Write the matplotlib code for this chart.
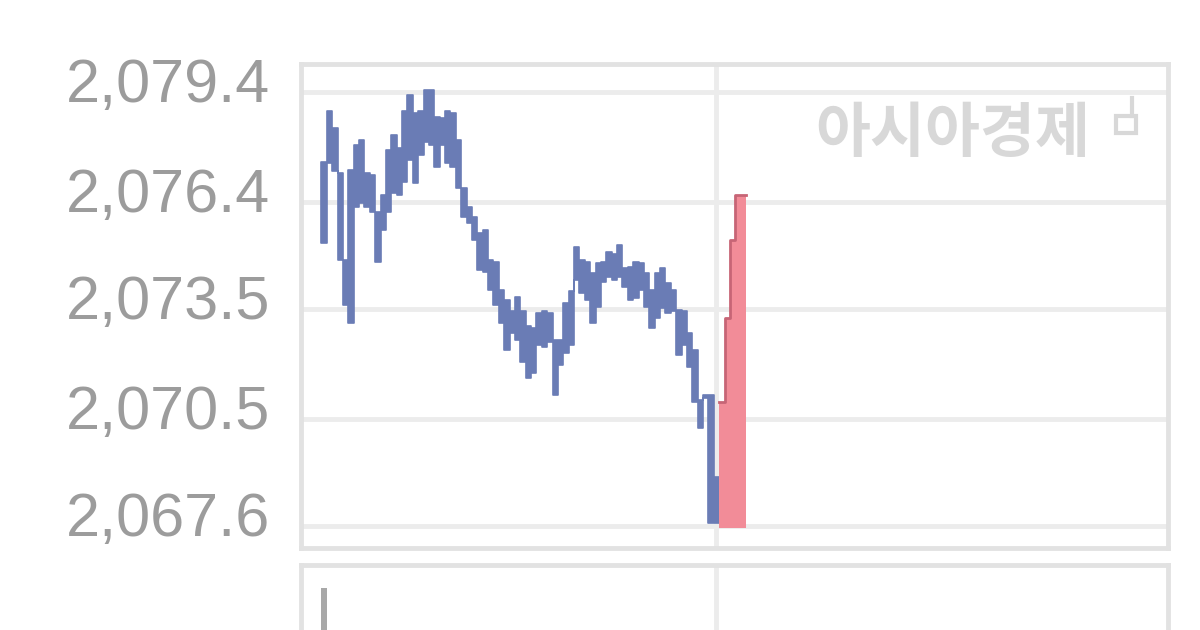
import numpy as np
import matplotlib.pyplot as plt
from matplotlib.patches import Rectangle
from matplotlib.lines import Line2D
from matplotlib.transforms import ScaledTranslation

# intraday index, one bin per column: high / low of each bin (blue, falling side)
blue_hi = [2077.50, 2078.86, 2078.40, 2077.18, 2074.82, 2077.27, 2077.95, 2078.09,
           2077.18, 2077.14, 2076.14, 2076.59, 2077.82, 2078.22, 2077.86, 2078.86,
           2079.30, 2078.81, 2078.86, 2079.45, 2079.45, 2078.72, 2078.68, 2078.86,
           2078.81, 2078.09, 2076.77, 2076.27, 2076.00, 2075.55, 2075.64, 2074.82,
           2074.78, 2074.01, 2073.74, 2073.43, 2073.83, 2073.43, 2073.02, 2072.97,
           2073.38, 2073.43, 2073.38, 2072.65, 2072.65, 2073.65, 2073.97, 2075.18,
           2074.82, 2074.78, 2074.46, 2074.73, 2074.78, 2075.05, 2075.00, 2075.23,
           2074.60, 2074.64, 2074.78, 2074.73, 2074.46, 2074.01, 2074.46, 2074.60,
           2074.19, 2074.01, 2073.47, 2073.43, 2072.83, 2072.38, 2071.02, 2071.16,
           2071.16, 2068.94]
blue_lo = [2075.28, 2077.45, 2077.23, 2074.82, 2073.61, 2073.11, 2076.27, 2076.37,
           2076.27, 2076.14, 2074.78, 2075.64, 2076.14, 2076.64, 2076.59, 2076.95,
           2077.54, 2076.91, 2077.68, 2078.04, 2077.95, 2077.36, 2077.95, 2077.45,
           2077.36, 2076.77, 2076.00, 2075.82, 2075.37, 2074.55, 2074.51, 2074.01,
           2073.61, 2073.11, 2072.38, 2072.83, 2072.65, 2072.06, 2071.61, 2071.75,
           2072.52, 2072.47, 2072.61, 2071.16, 2071.97, 2072.29, 2072.52, 2074.28,
           2073.92, 2073.74, 2073.11, 2073.56, 2074.24, 2074.37, 2074.28, 2074.37,
           2074.10, 2073.74, 2073.79, 2074.01, 2073.56, 2072.97, 2073.25, 2073.52,
           2073.38, 2073.43, 2072.25, 2072.52, 2071.93, 2070.98, 2070.25, 2071.07,
           2067.67, 2067.67]
# rebound bins (red, rising side)
red_top = [2070.98, 2073.25, 2075.37, 2076.59, 2076.59]
red_base = 2067.55

# volume panel
volume = [100] + [6] * 78

y_ticks = [2067.6, 2070.5, 2073.5, 2076.4, 2079.4]
y_labels = ['2,067.6', '2,070.5', '2,073.5', '2,076.4', '2,079.4']

BLUE = '#6a7cb5'
RED = '#f28c98'
RED_EDGE = '#c76576'
GRID = '#ececec'
FRAME = '#e2e2e2'
MARK = '#d8d8d8'


def bins(start, vals):
    # full-width step outline for bins centred on start, start+1, ...
    vals = np.asarray(vals)
    edges = np.arange(start, start + len(vals) + 1) - 0.5
    return np.repeat(edges, 2)[1:-1], np.repeat(vals, 2)


fig = plt.figure(figsize=(12, 6.3), dpi=100)
ax = fig.add_axes([301 / 1200, 1 - 548 / 630, 867 / 1200, 484 / 630])
ax_vol = fig.add_axes([301 / 1200, 1 - 700 / 630, 867 / 1200, 135 / 630])

n_blue = len(blue_hi)
xb, hi = bins(0, blue_hi)
_, lo = bins(0, blue_lo)
ax.fill_between(xb, lo, hi, color=BLUE, edgecolor=BLUE, lw=1.2, zorder=3)

xr, top = bins(n_blue, red_top)
ax.fill_between(xr, red_base, top, color=RED, lw=0, zorder=3)
ax.plot(xr, top, color=RED_EDGE, lw=2, zorder=4)

ax.set_xlim(-4.3, 157)
ax.set_ylim(2067.0, 2080.15)
ax.set_yticks(y_ticks)
ax.set_yticklabels(y_labels, fontsize=44, color='#9c9c9c', family='Liberation Sans')
ax.set_xticks([73])
ax.set_xticklabels([])
ax.tick_params(length=0, pad=22)
ax.grid(True, color=GRID, lw=3.5, zorder=0)
for lab in ax.get_yticklabels():
    lab.set_transform(lab.get_transform() + ScaledTranslation(0, 0.12, fig.dpi_scale_trans))

ax_vol.bar(np.arange(len(volume)), volume, width=1, color='#a8a8a8', zorder=3)
ax_vol.set_xlim(-4.3, 157)
ax_vol.set_ylim(0, 120)
ax_vol.set_xticks([73])
ax_vol.set_xticklabels([])
ax_vol.set_yticks([])
ax_vol.tick_params(length=0)
ax_vol.grid(True, axis='x', color=GRID, lw=3.5, zorder=0)

for a in (ax, ax_vol):
    for s in a.spines.values():
        s.set_color(FRAME)
        s.set_linewidth(3.5)

# watermark
fig.text(1090 / 1200, 1 - 135 / 630, '아시아경제', ha='right', va='center',
         fontsize=43, fontweight='bold', color=MARK, family='Noto Sans CJK KR')
fig.patches.append(Rectangle((1116 / 1200, 1 - 133 / 630), 20 / 1200, 17 / 630,
                             transform=fig.transFigure, fill=False,
                             edgecolor=MARK, lw=3))
fig.lines.append(Line2D([1132 / 1200, 1132 / 1200], [1 - 116 / 630, 1 - 98 / 630],
                        transform=fig.transFigure, color=MARK, lw=3))

fig.savefig('out.png', dpi=100, facecolor='white')
